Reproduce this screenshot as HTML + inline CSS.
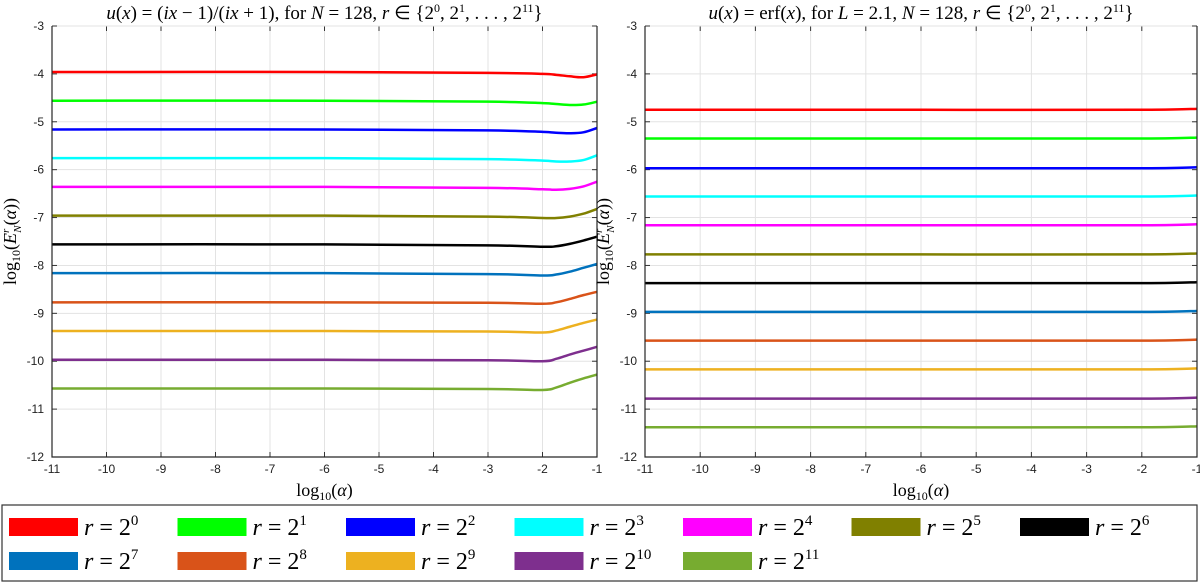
<!DOCTYPE html>
<html><head><meta charset="utf-8">
<style>
body{margin:0;background:#fff;width:1200px;height:583px;overflow:hidden;font-family:"Liberation Sans",sans-serif}
svg{display:block}
</style></head>
<body>
<svg id="c" width="1200" height="583"></svg>
<script>
const xTicks=[-11,-10,-9,-8,-7,-6,-5,-4,-3,-2,-1];
const yTicks=[-3,-4,-5,-6,-7,-8,-9,-10,-11,-12];
const colors=["#ff0000","#00ff00","#0000ff","#00ffff","#ff00ff","#808000","#000000","#0072bd","#d95319","#edb120","#7e2f8e","#77ac30"];
const seriesLabels=["0","1","2","3","4","5","6","7","8","9","10","11"];
const leftX=[-11,-6,-3,-2,-1.75,-1.5,-1.25,-1];
const leftY=[
[-3.96,-3.96,-3.98,-4.00,-4.02,-4.05,-4.07,-4.01],
[-4.56,-4.56,-4.58,-4.61,-4.63,-4.65,-4.64,-4.58],
[-5.16,-5.16,-5.18,-5.21,-5.23,-5.24,-5.22,-5.13],
[-5.76,-5.76,-5.78,-5.81,-5.83,-5.83,-5.80,-5.70],
[-6.36,-6.36,-6.38,-6.41,-6.42,-6.40,-6.35,-6.25],
[-6.96,-6.96,-6.98,-7.01,-7.01,-6.98,-6.92,-6.82],
[-7.56,-7.56,-7.58,-7.61,-7.60,-7.55,-7.48,-7.40],
[-8.16,-8.16,-8.18,-8.21,-8.19,-8.13,-8.05,-7.97],
[-8.77,-8.77,-8.78,-8.80,-8.77,-8.70,-8.62,-8.55],
[-9.37,-9.37,-9.38,-9.40,-9.36,-9.28,-9.20,-9.13],
[-9.97,-9.97,-9.98,-10.00,-9.95,-9.86,-9.78,-9.70],
[-10.57,-10.57,-10.58,-10.60,-10.55,-10.45,-10.36,-10.28]];
const rightX=[-11,-6,-2,-1];
const rightY=[
[-4.75,-4.75,-4.75,-4.73],
[-5.35,-5.35,-5.35,-5.33],
[-5.97,-5.97,-5.97,-5.95],
[-6.56,-6.56,-6.56,-6.54],
[-7.16,-7.16,-7.16,-7.14],
[-7.77,-7.77,-7.77,-7.75],
[-8.37,-8.37,-8.37,-8.35],
[-8.97,-8.97,-8.97,-8.95],
[-9.57,-9.57,-9.57,-9.55],
[-10.17,-10.17,-10.17,-10.15],
[-10.78,-10.78,-10.78,-10.76],
[-11.38,-11.38,-11.38,-11.36]];

const NS="http://www.w3.org/2000/svg";
const svg=document.getElementById('c');
function mk(t,a,p){const e=document.createElementNS(NS,t);for(const k in a)e.setAttribute(k,a[k]);(p||svg).appendChild(e);return e;}

function panel(px0,px1,title,xs,ys,id){
  const top=26,bot=457;
  const g=mk('g',{});
  
  
  const sx=v=>px0+(v+11)/10*(px1-px0);
  const sy=v=>top+(-3-v)/9*(bot-top);
  xTicks.forEach(t=>{
    const l=mk('line',{x1:sx(t),x2:sx(t),y1:top,y2:bot,stroke:'#e3e3e3','stroke-width':1},g);
    
    mk('line',{x1:sx(t),x2:sx(t),y1:bot,y2:bot-5,stroke:'#333'},g);
    mk('line',{x1:sx(t),x2:sx(t),y1:top,y2:top+5,stroke:'#333'},g);
    const tx=mk('text',{x:sx(t),y:bot+16,'font-size':12,'text-anchor':'middle',fill:'#222'},g);
    tx.textContent=t;
    
  });
  yTicks.forEach(t=>{
    const l=mk('line',{x1:px0,x2:px1,y1:sy(t),y2:sy(t),stroke:'#e3e3e3','stroke-width':1},g);
    
    mk('line',{x1:px0,x2:px0+5,y1:sy(t),y2:sy(t),stroke:'#333'},g);
    mk('line',{x1:px1,x2:px1-5,y1:sy(t),y2:sy(t),stroke:'#333'},g);
    const tx=mk('text',{x:px0-8,y:sy(t)+4,'font-size':12,'text-anchor':'end',fill:'#222'},g);
    tx.textContent=t;
    
  });
  ys.forEach((arr,i)=>{
    const pts=xs.map((x,j)=>[sx(x),sy(arr[j])]);
    let d='M'+pts[0][0]+','+pts[0][1];
    for(let k=0;k<pts.length-1;k++){
      const p0=pts[Math.max(0,k-1)],p1=pts[k],p2=pts[k+1],p3=pts[Math.min(pts.length-1,k+2)];
      const c1x=p1[0]+(p2[0]-p0[0])/6,c1y=p1[1]+(p2[1]-p0[1])/6;
      const c2x=p2[0]-(p3[0]-p1[0])/6,c2y=p2[1]-(p3[1]-p1[1])/6;
      d+=` C${c1x},${c1y} ${c2x},${c2y} ${p2[0]},${p2[1]}`;
    }
    const p=mk('path',{d:d,fill:'none',stroke:colors[i],'stroke-width':2.5},g);
    
    
  });
  const fr=mk('path',{d:`M${px0},${top}V${bot}H${px1}V${top}`,fill:'none',stroke:'#262626','stroke-width':1.2},g);
  
  const ti=mk('text',{x:(px0+px1)/2,y:19,'font-size':19,'text-anchor':'middle','font-family':'Liberation Serif,serif',fill:'#000'},g);
  ti.innerHTML=title;
  
  const xl=mk('text',{x:(px0+px1)/2,y:496,'font-size':18,'text-anchor':'middle','font-family':'Liberation Serif,serif'},g);
  xl.innerHTML='log<tspan font-size="12" dy="4">10</tspan><tspan dy="-4">(</tspan><tspan font-style="italic">α</tspan>)';
  
  const yl=mk('text',{transform:`translate(${px0-36},${(top+bot)/2}) rotate(-90)`,'font-size':18,'text-anchor':'middle','font-family':'Liberation Serif,serif'},g);
  yl.innerHTML='log<tspan font-size="12" dy="4">10</tspan><tspan dy="-4">(</tspan><tspan font-style="italic">E</tspan><tspan font-size="11" font-style="italic" dy="-7">r</tspan><tspan font-size="11" font-style="italic" dx="-4" dy="12">N</tspan><tspan dy="-5">(</tspan><tspan font-style="italic">α</tspan>))';
  
}
panel(52,597,'<tspan font-style="italic">u</tspan>(<tspan font-style="italic">x</tspan>) = (<tspan font-style="italic">ix</tspan> − 1)/(<tspan font-style="italic">ix</tspan> + 1), for <tspan font-style="italic">N</tspan> = 128, <tspan font-style="italic">r</tspan> ∈ {2<tspan font-size="12" dy="-7">0</tspan><tspan dy="7">, 2</tspan><tspan font-size="12" dy="-7">1</tspan><tspan dy="7">, . . . , 2</tspan><tspan font-size="12" dy="-7">11</tspan><tspan dy="7">}</tspan>',leftX,leftY,'left');
panel(645,1197,'<tspan font-style="italic">u</tspan>(<tspan font-style="italic">x</tspan>) = erf(<tspan font-style="italic">x</tspan>), for <tspan font-style="italic">L</tspan> = 2.1, <tspan font-style="italic">N</tspan> = 128, <tspan font-style="italic">r</tspan> ∈ {2<tspan font-size="12" dy="-7">0</tspan><tspan dy="7">, 2</tspan><tspan font-size="12" dy="-7">1</tspan><tspan dy="7">, . . . , 2</tspan><tspan font-size="12" dy="-7">11</tspan><tspan dy="7">}</tspan>',rightX,rightY,'right');

const lg=mk('g',{});


const lb=mk('rect',{x:2,y:505,width:1195,height:76,fill:'#fff',stroke:'#333','stroke-width':1.2},lg);

colors.forEach((c,i)=>{
  const row=i<7?0:1,col=i<7?i:i-7;
  const x=9+col*168.5,y=row?552:518;
  const e=mk('g',{},lg);
  
  
  mk('rect',{x:x,y:y,width:69,height:18,fill:c},e);
  const t=mk('text',{x:x+75,y:y+17,'font-size':24,'font-family':'Liberation Serif,serif'},e);
  t.innerHTML='<tspan font-style="italic">r</tspan> = 2<tspan font-size="15" dy="-10">'+seriesLabels[i]+'</tspan>';
});
</script>
</body></html>
